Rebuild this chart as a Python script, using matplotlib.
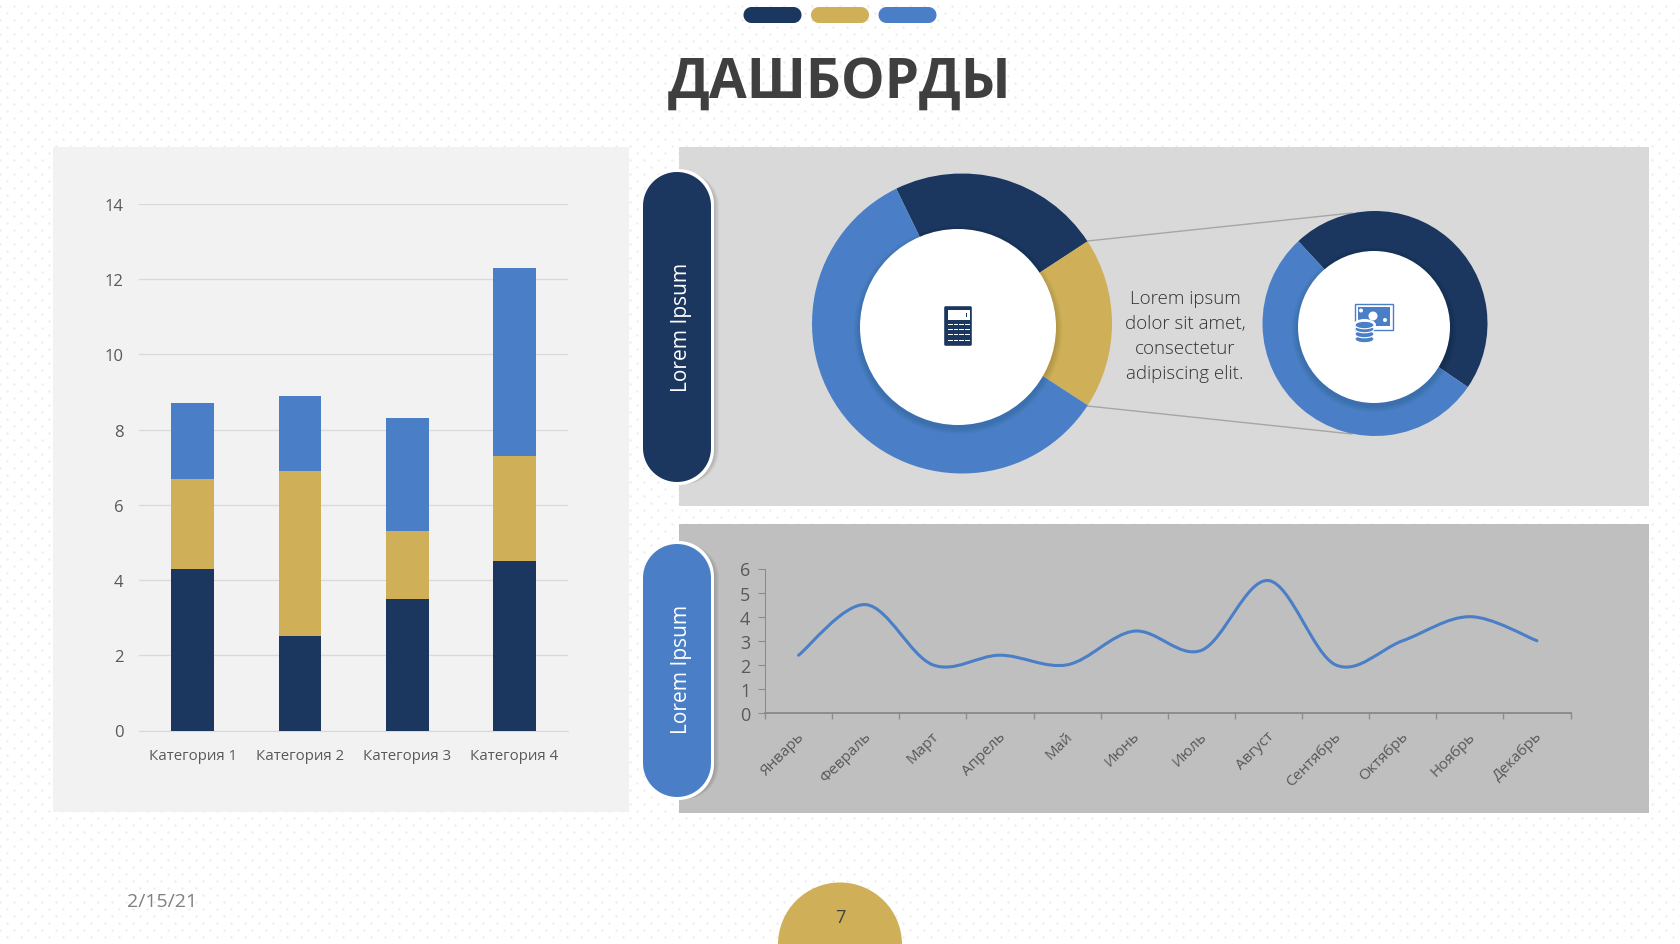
import numpy as np
from matplotlib import pyplot as plt
from matplotlib.patches import Rectangle, Circle, FancyBboxPatch, Ellipse, PathPatch, Polygon
from matplotlib.path import Path

NAVY = '#1B365F'
GOLD = '#CFAF57'
BLUE = '#4A7FC7'
TXT = '#595959'

categories = ['Категория 1', 'Категория 2', 'Категория 3', 'Категория 4']
bar_navy = [4.3, 2.5, 3.5, 4.5]
bar_gold = [2.4, 4.4, 1.8, 2.8]
bar_blue = [2.0, 2.0, 3.0, 5.0]

donut_big = [23, 18.4, 58.6]
donut_small = [46.5, 53.5]

months = ['Январь', 'Февраль', 'Март', 'Апрель', 'Май', 'Июнь', 'Июль', 'Август',
          'Сентябрь', 'Октябрь', 'Ноябрь', 'Декабрь']
month_vals = [2.4, 4.5, 2.0, 2.4, 2.0, 3.4, 2.6, 5.5, 2.0, 3.0, 4.0, 3.0]

W, H = 1680, 945
fig = plt.figure(figsize=(16.8, 9.45), dpi=100, facecolor='white')
plt.rcParams['font.family'] = ['Open Sans', 'DejaVu Sans']


def px_axes(x0, y0, x1, y1, z):
    # pixel box, y counted from the top of the picture
    a = fig.add_axes([x0 / W, 1 - y1 / H, (x1 - x0) / W, (y1 - y0) / H], zorder=z)
    a.patch.set_alpha(0)
    return a


bg = px_axes(0, 0, W, H, 0)
bg.set_xlim(0, W)
bg.set_ylim(H, 0)
bg.axis('off')

# dotted backdrop
gx, gy = np.meshgrid(np.arange(0, W + 14, 14.0), np.arange(7, H, 14.0))
bg.scatter(gx.ravel(), gy.ravel(), s=3, c='#EDEDED', linewidths=0, zorder=0)
bg.scatter(gx.ravel() + 7, gy.ravel() + 7, s=3, c='#EDEDED', linewidths=0, zorder=0)

# panels
bg.add_patch(Rectangle((52.5, 147.5), 576.5, 665.5, fc='#F2F2F2', ec='none', zorder=1))
bg.add_patch(Rectangle((679, 147.5), 970, 359.5, fc='#D9D9D9', ec='none', zorder=1))
bg.add_patch(Rectangle((679, 525), 970, 289, fc='#BFBFBF', ec='none', zorder=1))


def pill(x0, y0, x1, y1, color, z=3, alpha=1.0, vertical=True):
    # real half circles at both ends
    t = np.linspace(0, np.pi, 40)
    if vertical:
        r = (x1 - x0) / 2
        cx = (x0 + x1) / 2
        top = np.column_stack([cx - r * np.cos(t), y0 + r - r * np.sin(t)])
        low = np.column_stack([cx + r * np.cos(t), y1 - r + r * np.sin(t)])
    else:
        r = (y1 - y0) / 2
        cy = (y0 + y1) / 2
        top = np.column_stack([x1 - r + r * np.sin(t), cy - r * np.cos(t)])
        low = np.column_stack([x0 + r - r * np.sin(t), cy + r * np.cos(t)])
    bg.add_patch(Polygon(np.vstack([top, low]), closed=True, fc=color, ec='none',
                         zorder=z, alpha=alpha))


# header pills
for x0, col in zip([743.5, 811, 878.5], [NAVY, GOLD, BLUE]):
    pill(x0, 8, x0 + 58, 24, col, vertical=False)

bg.text(840, 83, 'ДАШБОРДЫ', ha='center', va='center', fontsize=39.5, fontweight='bold',
        color='#3F3F3F', zorder=5)

# side pills with white rim and a bit of shadow
for (y0, y1, col, dy) in [(172, 484, NAVY, -1), (544, 799, BLUE, -2)]:
    for i in range(6, 0, -1):
        pill(645 + i, y0 + 1, 713 + i, y1 + 1, 'black', z=2, alpha=0.035)
    pill(643, y0 - 2, 714, y1 + 2, 'white', z=3)
    pill(643, y0 + 1, 711, y1 - 1, col, z=4)
    bg.text(682, (y0 + y1) / 2 + dy, 'Lorem Ipsum', rotation=90, ha='center', va='center',
            fontsize=15.1, color='white', zorder=5)

# stacked bars
ax = px_axes(139.3, 205, 568, 731.5, 1)
xs = np.arange(4)
bot2 = np.array(bar_navy) + np.array(bar_gold)
ax.bar(xs, bar_navy, 0.4, color=NAVY, zorder=3)
ax.bar(xs, bar_gold, 0.4, bottom=bar_navy, color=GOLD, zorder=3)
ax.bar(xs, bar_blue, 0.4, bottom=bot2, color=BLUE, zorder=3)
ax.set_xlim(-0.5, 3.5)
ax.set_ylim(0, 14)
ax.set_yticks(range(0, 15, 2))
ax.set_xticks(xs)
ax.set_xticklabels(categories)
ax.grid(axis='y', color='#D9D9D9', lw=0.9, zorder=0)
ax.tick_params(axis='x', length=0, labelsize=10.8, labelcolor=TXT, pad=12.3)
ax.tick_params(axis='y', length=0, labelsize=12, labelcolor=TXT, pad=11.5)
for s in ['top', 'left', 'right']:
    ax.spines[s].set_visible(False)
ax.spines['bottom'].set_color('#D9D9D9')


# donut, pie axes in pixels
def donut(cx, cy, r, vals, colors, start, hole_cx, hole_cy, hole_r):
    a = px_axes(cx - r, cy - r, cx + r, cy + r, 1)
    a.pie(vals, colors=colors, startangle=start, counterclock=False, radius=1,
          wedgeprops=dict(width=1.0, linewidth=0))
    a.set_xlim(-1, 1)
    a.set_ylim(-1, 1)
    over = px_axes(cx - r, cy - r, cx + r, cy + r + 12, 2)
    over.set_xlim(cx - r, cx + r)
    over.set_ylim(cy + r + 12, cy - r)
    over.axis('off')
    for i in range(8, 0, -1):
        over.add_patch(Circle((hole_cx, hole_cy + 3), hole_r + i * 0.8, fc='black', ec='none',
                              alpha=0.016))
    over.add_patch(Circle((hole_cx, hole_cy), hole_r, fc='white', ec='none'))
    return over


over1 = donut(962, 324.5, 150, donut_big, [NAVY, GOLD, BLUE], 116, 958, 328, 98)
over2 = donut(1375, 324.5, 112.5, donut_small, [NAVY, BLUE], 133, 1374, 328, 76)

# connector lines, on top of the panel below the donuts
bg.plot([1087.5, 1352], [242, 214], color='#A6A6A6', lw=1, zorder=2)
bg.plot([1087.5, 1352], [407, 435], color='#A6A6A6', lw=1, zorder=2)

# calculator icon
ic = px_axes(930, 295, 990, 355, 3)
ic.set_xlim(930, 990)
ic.set_ylim(355, 295)
ic.axis('off')
ic.add_patch(FancyBboxPatch((944.5, 307.5), 27, 39, boxstyle='round,pad=0.3,rounding_size=1.5',
                            fc=NAVY, ec='none'))
ic.add_patch(Rectangle((948, 311), 22, 9.5, fc='white', ec='none'))
ic.add_patch(Rectangle((965.5, 314), 1, 4, fc=NAVY, ec='none'))
for yy in [325, 330, 335, 341]:
    for xx in [948, 953.7, 959.4, 965.1]:
        ic.add_patch(Rectangle((xx, yy), 4.6, 1.4, fc='white', ec='none'))

# money icon
im = px_axes(1345, 295, 1405, 355, 3)
im.set_xlim(1345, 1405)
im.set_ylim(355, 295)
im.axis('off')
im.add_patch(Rectangle((1354.5, 305), 38.5, 25.5, fc='none', ec=BLUE, lw=1))
im.add_patch(Rectangle((1358, 308), 32, 19, fc=BLUE, ec='none'))
im.add_patch(Circle((1373, 317), 4.5, fc='white', ec='none'))
im.add_patch(Circle((1361, 311.5), 2, fc='white', ec='none'))
im.add_patch(Circle((1385, 321), 2, fc='white', ec='none'))
im.add_patch(Ellipse((1364.5, 326), 23, 12, fc='white', ec='none'))
for yy in [340, 335, 330, 326]:
    im.add_patch(Ellipse((1364.5, yy), 19, 7.5, fc=BLUE, ec='white', lw=0.8))

text_lines = ['Lorem ipsum', 'dolor sit amet,', 'consectetur', 'adipiscing elit.']
for yy, line in zip([299, 324, 349, 374], text_lines):
    bg.text(1185, yy, line, ha='center', va='center', fontsize=13.5, color='#333333',
            fontweight='light', zorder=5)

# smooth line chart
lc = px_axes(765, 569.5, 1570.5, 714, 1)
lx = np.arange(12) + 0.5
ly = np.array(month_vals)
verts = [(lx[0], ly[0])]
codes = [Path.MOVETO]
for i in range(11):
    p0 = i - 1 if i > 0 else i
    p3 = i + 2 if i < 10 else i + 1
    c1 = (lx[i] + (lx[i + 1] - lx[p0]) / 6, ly[i] + (ly[i + 1] - ly[p0]) / 6)
    c2 = (lx[i + 1] - (lx[p3] - lx[i]) / 6, ly[i + 1] - (ly[p3] - ly[i]) / 6)
    verts += [c1, c2, (lx[i + 1], ly[i + 1])]
    codes += [Path.CURVE4, Path.CURVE4, Path.CURVE4]
lc.add_patch(PathPatch(Path(verts, codes), fc='none', ec=BLUE, lw=2.2, capstyle='round'))
lc.set_xlim(0, 12)
lc.set_ylim(0, 6)
lc.set_yticks(range(7))
lc.set_xticks(range(13))
lc.set_xticklabels([])
lc.set_xticks(lx - 0.03, months, minor=True)
lc.tick_params(axis='x', which='major', direction='out', length=4.5, color='#8C8C8C', width=1)
lc.tick_params(axis='x', which='minor', length=0, pad=11, labelsize=11, labelcolor=TXT,
               labelrotation=45)
for t in lc.get_xticklabels(minor=True):
    t.set_ha('right')
    t.set_rotation_mode('anchor')
lc.tick_params(axis='y', length=5, color='#8C8C8C', labelsize=13, labelcolor=TXT, pad=5.5)
for s in ['top', 'right']:
    lc.spines[s].set_visible(False)
lc.spines['left'].set_color('#8C8C8C')
lc.spines['bottom'].set_color('#8C8C8C')
lc.spines['bottom'].set_linewidth(1.4)

# footer
bg.text(127.5, 902, '2/15/21', ha='left', va='center', fontsize=14, color='#808080', zorder=5)
bg.add_patch(Circle((840, 945.5), 62, fc=GOLD, ec='none', zorder=3))
bg.text(840, 918, '7', ha='center', va='center', fontsize=13, color='#404040', zorder=5)

fig.savefig('out.png', dpi=100)
